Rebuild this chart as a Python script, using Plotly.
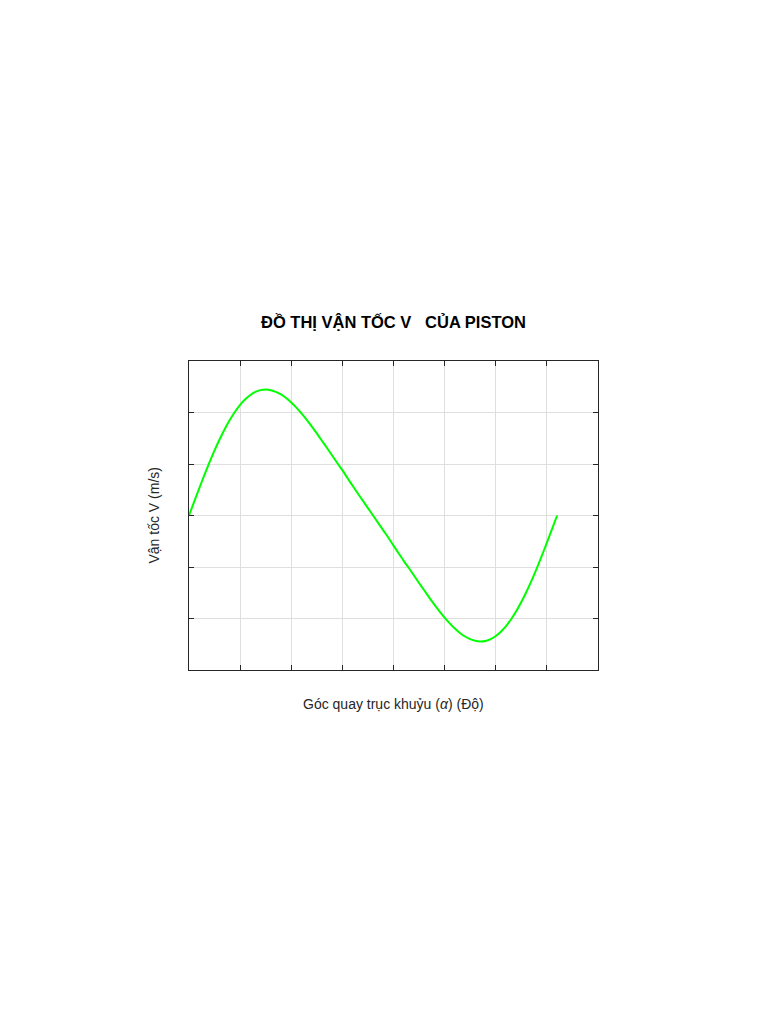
import plotly.graph_objects as go

# Crank angle (degrees) and piston velocity values
angle_deg = [0, 5, 10, 15, 20, 25, 30, 35, 40, 45, 50, 55, 60, 65, 70, 75, 80, 85, 90,
             95, 100, 105, 110, 115, 120, 125, 130, 135, 140, 145, 150, 155, 160, 165, 170, 175, 180,
             185, 190, 195, 200, 205, 210, 215, 220, 225, 230, 235, 240, 245, 250, 255, 260, 265, 270,
             275, 280, 285, 290, 295, 300, 305, 310, 315, 320, 325, 330, 335, 340, 345, 350, 355, 360]
velocity = [0.0, 1.33, 2.64, 3.92, 5.15, 6.32, 7.40, 8.40, 9.29, 10.07, 10.74, 11.28, 11.70,
            12.00, 12.17, 12.23, 12.17, 12.01, 11.75, 11.40, 10.97, 10.47, 9.91, 9.30, 8.65,
            7.97, 7.26, 6.55, 5.82, 5.10, 4.40, 3.64, 2.89, 2.16, 1.44, 0.72, 0.0,
            -0.72, -1.44, -2.16, -2.92, -3.66, -4.40, -5.10, -5.82, -6.55, -7.26, -7.97, -8.65,
            -9.30, -9.91, -10.47, -10.97, -11.40, -11.75, -12.01, -12.17, -12.23, -12.18, -12.00,
            -11.70, -11.28, -10.74, -10.07, -9.29, -8.40, -7.40, -6.32, -5.15, -3.92, -2.64, -1.33, 0.0]

x_range = [0, 400]
y_range = [-15, 15]
x_tickvals = [0, 50, 100, 150, 200, 250, 300, 350, 400]
y_tickvals = [-15, -10, -5, 0, 5, 10, 15]

title_text = "ĐỒ THỊ VẬN TỐC V\u00a0\u00a0\u00a0CỦA PISTON"
x_title = "Góc quay trục khuỷu (<i>α</i>) (Độ)"
y_title = "Vận tốc V (m/s)"

axis_color = "#262626"
grid_color = "#dfdfdf"
font_family = "Liberation Sans, Arial, sans-serif"

fig = go.Figure()
fig.add_trace(go.Scatter(
    x=angle_deg, y=velocity, mode="lines",
    line=dict(color="#00ff00", width=2, shape="spline", smoothing=0.8),
    showlegend=False, hoverinfo="skip",
))

axis_common = dict(
    showticklabels=False, ticks="inside", ticklen=5, tickwidth=1, tickcolor=axis_color,
    showline=True, linecolor=axis_color, linewidth=1, mirror="ticks",
    showgrid=True, gridcolor=grid_color, gridwidth=1, zeroline=False,
)

fig.update_xaxes(range=x_range, tickvals=x_tickvals, **axis_common)
fig.update_yaxes(range=y_range, tickvals=y_tickvals, **axis_common)

fig.update_layout(
    width=768, height=1024,
    margin=dict(l=181, r=178, t=353, b=362),
    paper_bgcolor="white", plot_bgcolor="white",
    font=dict(family=font_family, color=axis_color),
    title=dict(
        text="<b>" + title_text + "</b>",
        font=dict(family=font_family, size=16.5, color="#000000"),
        x=0.5, xref="paper", xanchor="center",
        y=1 - 314 / 1024, yref="container", yanchor="middle",
    ),
    annotations=[
        dict(text=x_title, xref="paper", yref="paper", x=0.5, y=0,
             xanchor="center", yanchor="top", yshift=-24, showarrow=False,
             font=dict(family=font_family, size=14, color=axis_color)),
        dict(text=y_title, xref="paper", yref="paper", x=0, y=0.5,
             xanchor="right", yanchor="middle", xshift=-26, textangle=-90, showarrow=False,
             font=dict(family=font_family, size=14, color=axis_color)),
    ],
)

fig.write_html("out.html")
